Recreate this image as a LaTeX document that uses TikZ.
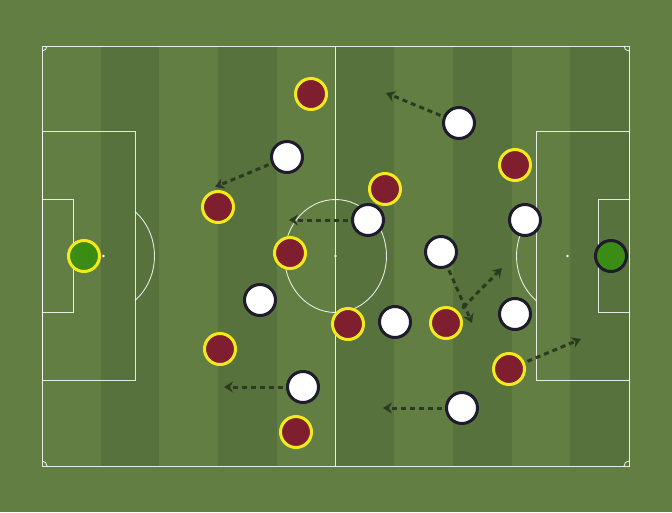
\documentclass[tikz,border=0pt]{standalone}
\usetikzlibrary{arrows.meta,shadows}

\definecolor{grass}{HTML}{627E42}
\definecolor{stripe}{HTML}{57723D}
\definecolor{maroon}{HTML}{7E1E2F}
\definecolor{kityellow}{HTML}{F3EA1C}
\definecolor{navy}{HTML}{1D1B2C}
\definecolor{keeper}{HTML}{3B8C14}
\definecolor{runline}{HTML}{2C3B20}

\tikzset{
  player/.style={circle, inner sep=0pt, minimum size=31pt, line width=3pt,
    drop shadow={opacity=0.25, shadow xshift=0.6pt, shadow yshift=-1.6pt}},
  home/.style={player, fill=maroon, draw=kityellow},
  away/.style={player, fill=white, draw=navy},
  homekeeper/.style={player, fill=keeper, draw=kityellow},
  awaykeeper/.style={player, fill=keeper, draw=navy},
  run/.style={runline, line width=3pt, dash pattern=on 5pt off 4pt,
    shorten <=3pt, -{Stealth[length=9pt,width=11pt,inset=3pt]}},
  pitchline/.style={white, opacity=0.85, line width=0.9pt}
}

\begin{document}
\begin{tikzpicture}[x=1pt,y=-1pt]
  \useasboundingbox (0,0) rectangle (672,512);
  \fill[grass] (0,0) rectangle (672,512);
  \foreach \i in {1,3,5,7,9}
    \fill[stripe] ({42+\i*58.7},46) rectangle ({42+(\i+1)*58.7},466);

  \draw[pitchline] (42,46) rectangle (629,466);
  \draw[pitchline] (335.5,46) -- (335.5,466);
  \draw[pitchline] (335.5,256) ellipse [x radius=51, y radius=56.5];
  \draw[pitchline] (42,131) rectangle (135,380);
  \draw[pitchline] (42,199) rectangle (73,312);
  \draw[pitchline] (536,131) rectangle (629,380);
  \draw[pitchline] (598,199) rectangle (629,312);
  \begin{scope}
    \clip (135,46) rectangle (200,466);
    \draw[pitchline] (103.5,256) ellipse [x radius=51, y radius=56.5];
  \end{scope}
  \begin{scope}
    \clip (470,46) rectangle (536,466);
    \draw[pitchline] (567.5,256) ellipse [x radius=51, y radius=56.5];
  \end{scope}
  \begin{scope}
    \clip (42,46) rectangle (629,466);
    \foreach \cx/\cy in {42/46, 629/46, 42/466, 629/466}
      \draw[pitchline] (\cx,\cy) circle [radius=5];
  \end{scope}
  \foreach \sx in {103.5,335.5,567.5}
    \fill[white] (\sx,256) circle [radius=1.4];

  \coordinate (endA) at (215,187);
  \coordinate (endB) at (289,220);
  \coordinate (endC) at (386,93);
  \coordinate (endD) at (224,387);
  \coordinate (endE) at (383,408);
  \coordinate (endF) at (581,339);
  \coordinate (endG) at (472,323);
  \coordinate (split) at (463.5,307);
  \coordinate (endH) at (502,268);

  \node[homekeeper] (hgk) at (84,256) {};
  \node[home] (h1) at (311,94) {};
  \node[home] (h2) at (218,207) {};
  \node[home] (h3) at (290,253) {};
  \node[home] (h4) at (385,189) {};
  \node[home] (h5) at (515,165) {};
  \node[home] (h6) at (220,349) {};
  \node[home] (h7) at (296,432) {};
  \node[home] (h8) at (348,324) {};
  \node[home] (h9) at (446,323) {};
  \node[home] (h10) at (509,369) {};

  \node[awaykeeper] (agk) at (611,256) {};
  \node[away] (a1) at (287,157) {};
  \node[away] (a2) at (459,123) {};
  \node[away] (a3) at (368,220) {};
  \node[away] (a4) at (441,252) {};
  \node[away] (a5) at (525,220) {};
  \node[away] (a6) at (260,300) {};
  \node[away] (a7) at (303,387) {};
  \node[away] (a8) at (395,322) {};
  \node[away] (a9) at (515,314) {};
  \node[away] (a10) at (462,408) {};

  \draw[run] (a1) -- (endA);
  \draw[run] (a3) -- (endB);
  \draw[run] (a2) -- (endC);
  \draw[run] (a7) -- (endD);
  \draw[run] (a10) -- (endE);
  \draw[run] (h10) -- (endF);
  \draw[run] (a4) -- (endG);
  \draw[run, shorten <=0pt] (split) -- (endH);
  \fill[runline] (split) circle [radius=2];
\end{tikzpicture}
\end{document}
